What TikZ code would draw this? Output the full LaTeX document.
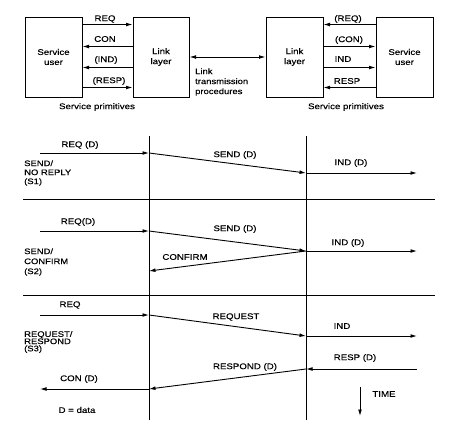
\documentclass[tikz,border=0pt]{standalone}
\usepackage{fontspec}
\setmainfont{Liberation Sans}[FakeStretch=1.18,FakeBold=0.4]
\usetikzlibrary{arrows.meta}
\begin{document}
\begin{tikzpicture}[x=1pt,y=-1pt,
  lbl/.style={font=\fontsize{8.2}{10}\selectfont, inner sep=0pt},
  side/.style={font=\fontsize{8}{#1}\selectfont, inner sep=0pt, align=left, anchor=west},
  box/.style={draw, line width=1pt, minimum width=57pt, minimum height=80pt, inner sep=0pt, align=center, font=\fontsize{8.2}{10}\selectfont},
  arr/.style={line width=0.9pt, -{Latex[length=6.5pt,width=3.8pt]}},
  darr/.style={line width=0.9pt, {Latex[length=6.5pt,width=3.8pt]}-{Latex[length=6.5pt,width=3.8pt]}},
  rule/.style={line width=0.9pt}]
\useasboundingbox (0,0) rectangle (458,440);
% ---------- top part ----------
\node[box] (su1) at (53.5,57) {Service\\user};
\node[box, minimum width=56pt] (ll1) at (161,57) {Link\\layer};
\node[box] (ll2) at (294.5,57) {Link\\layer};
\node[box] (su2) at (404.5,57) {Service\\user};

\draw[arr] ([yshift=-8pt]su1.north east) -- ([yshift=-8pt]ll1.north west);
\draw[arr] ([yshift=-30pt]ll1.north west) -- ([yshift=-30pt]su1.north east);
\draw[arr] ([yshift=-51pt]ll1.north west) -- ([yshift=-51pt]su1.north east);
\draw[arr] ([yshift=-71pt]su1.north east) -- ([yshift=-71pt]ll1.north west);

\draw[arr] ([yshift=-8pt]su2.north west) -- ([yshift=-8pt]ll2.north east);
\draw[arr] ([yshift=-30pt]ll2.north east) -- ([yshift=-30pt]su2.north west);
\draw[arr] ([yshift=-51pt]ll2.north east) -- ([yshift=-51pt]su2.north west);
\draw[arr] ([yshift=-71pt]su2.north west) -- ([yshift=-71pt]ll2.north east);

\draw[darr] (ll1) -- (ll2);

\node[lbl] (t1) at (105,19) {REQ};
\node[lbl] (t2) at (105,39) {CON};
\node[lbl] (t3) at (106,60) {(IND)};
\node[lbl] (t4) at (109,81) {(RESP)};
\node[lbl] (t5) at (348,19) {(REQ)};
\node[lbl] (t6) at (349,40) {(CON)};
\node[lbl] (t7) at (343,59) {IND};
\node[lbl] (t8) at (347,81) {RESP};
\node[side=10] (ltp) at (195,82) {Link\\transmission\\procedures};
\node[lbl] (sp1) at (97,107) {Service primitives};
\node[lbl] (sp2) at (346,107) {Service primitives};

% ---------- bottom part ----------
\coordinate (la) at (149,136);
\coordinate (lb) at (149,420);
\coordinate (ra) at (306,136);
\coordinate (rb) at (306,420);
\draw[rule] (la) -- (lb);
\draw[rule] (ra) -- (rb);
\coordinate (h1a) at (23,199);
\coordinate (h1b) at (435,199);
\coordinate (h2a) at (23,295);
\coordinate (h2b) at (435,295);
\draw[rule] (h1a) -- (h1b);
\draw[rule] (h2a) -- (h2b);

% S1
\coordinate (L1) at (40,153);
\coordinate (a1) at (149,153);
\coordinate (b1) at (306,173);
\coordinate (R1) at (417,173);
\draw[arr] (L1) -- (a1);
\draw[arr] (a1) -- (b1);
\draw[arr] (b1) -- (R1);
\node[lbl] (m11) at (80,145) {REQ (D)};
\node[lbl] (m12) at (235,155) {SEND (D)};
\node[lbl] (m13) at (351,163) {IND (D)};
\node[side=9] (s1) at (24,173) {SEND/\\NO REPLY\\(S1)};

% S2
\coordinate (L2) at (40,231);
\coordinate (a2) at (149,231);
\coordinate (b2) at (306,251);
\coordinate (R2) at (417,251);
\coordinate (c2) at (149,271);
\draw[arr] (L2) -- (a2);
\draw[arr] (a2) -- (b2);
\draw[arr] (b2) -- (R2);
\draw[arr] (b2) -- (c2);
\node[lbl] (m21) at (78,222) {REQ(D)};
\node[lbl] (m22) at (235,229) {SEND (D)};
\node[lbl] (m23) at (348,243) {IND (D)};
\node[lbl] (m24) at (185,257) {CONFIRM};
\node[side=10] (s2) at (24,262) {SEND/\\CONFIRM\\(S2)};

% S3
\coordinate (L3) at (40,315);
\coordinate (a3) at (149,315);
\coordinate (b3) at (306,336);
\coordinate (R3) at (417,336);
\coordinate (R3b) at (417,369);
\coordinate (b3b) at (306,369);
\coordinate (a3b) at (149,389);
\coordinate (L3b) at (40,389);
\draw[arr] (L3) -- (a3);
\draw[arr] (a3) -- (b3);
\draw[arr] (b3) -- (R3);
\draw[arr] (R3b) -- (b3b);
\draw[arr] (b3b) -- (a3b);
\draw[arr] (a3b) -- (L3b);
\node[lbl] (m31) at (70,305) {REQ};
\node[lbl] (m32) at (236,317) {REQUEST};
\node[lbl] (m33) at (342,326) {IND};
\node[lbl] (m34) at (355,358) {RESP (D)};
\node[lbl] (m35) at (245,367) {RESPOND (D)};
\node[lbl] (m36) at (79,379) {CON (D)};
\node[side=7.2] (s3) at (24,342) {REQUEST/\\RESPOND\\(S3)};
\node[lbl] (dd) at (77,410) {D = data};

\coordinate (ta) at (360,387);
\coordinate (tb) at (360,416);
\draw[arr] (ta) -- (tb);
\node[lbl] (time) at (384,394) {TIME};
\end{tikzpicture}
\end{document}
